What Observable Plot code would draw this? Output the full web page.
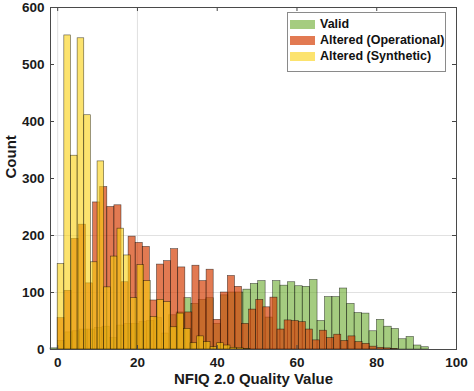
<!DOCTYPE html>
<html><head><meta charset="utf-8">
<script src="https://cdn.jsdelivr.net/npm/d3@7"></script>
<script src="https://cdn.jsdelivr.net/npm/@observablehq/plot@0.6"></script>
<style>
body{margin:0;background:#fff;}
#chart{position:relative;width:474px;height:391px;font-family:'Liberation Sans',Arial,sans-serif;}
#legend{position:absolute;left:287px;top:12px;width:159px;height:60px;border:1px solid #8a8a8a;background:#fff;box-sizing:border-box;}
.row{position:absolute;left:2px;height:16px;display:flex;align-items:center;font-weight:bold;font-size:12.5px;color:#111;white-space:nowrap;}
.sw{width:25px;height:9px;margin-right:5px;}
</style></head><body><div id="chart"><div id="legend"></div></div>
<script>
const seriesNames = ["Valid", "Altered (Operational)", "Altered (Synthetic)"];
const seriesColors = ["#69AA2B", "#D54108", "#FAD00D"];
const seriesOpacity = [0.6, 0.7, 0.6];

const validStart = -1.8, validWidth = 1.86;
const validCounts = [2, 15, 30, 32, 35, 35, 38, 40, 20, 42, 45, 45, 48, 50, 55, 28, 60, 65, 90, 80,
  87, 90, 45, 95, 100, 100, 105, 115, 120, 56, 120, 112, 118, 111, 110, 122, 50, 92, 92, 107,
  80, 64, 63, 32, 52, 40, 36, 18, 22, 7, 4];

const operationalStart = 0, operationalWidth = 1.778;
const operationalCounts = [55, 103, 194, 219, 116, 258, 285, 250, 253, 118, 198, 187, 180, 86, 149, 155,
  176, 144, 65, 147, 120, 140, 52, 100, 129, 110, 45, 70, 87, 74, 91, 35, 51, 50, 48, 35, 16, 33, 20,
  26, 15, 23, 13, 10, 5, 3, 2, 1];

const syntheticStart = 0, syntheticWidth = 5 / 3;
const syntheticCounts = [150, 551, 340, 546, 411, 153, 330, 109, 163, 212, 165, 90, 148, 120, 57, 87, 83,
  39, 63, 36, 11, 23, 13, 4, 11, 7, 3, 2, 1];

const xTicks = [0, 20, 40, 60, 80, 100];
const yTicks = [0, 100, 200, 300, 400, 500, 600];
const xGrid = [0, 20];
const yGrid = [100, 200];
const xDomain = [-1.8, 100];
const yDomain = [0, 600];

function rows(start, width, counts) {
  return counts.map((c, i) => ({x1: start + i * width, x2: start + (i + 1) * width, count: c}));
}
const series = [
  rows(validStart, validWidth, validCounts),
  rows(operationalStart, operationalWidth, operationalCounts),
  rows(syntheticStart, syntheticWidth, syntheticCounts)
];

const barMarks = series.map((data, s) => Plot.rect(data, {
  x1: "x1", x2: "x2", y1: 0, y2: "count",
  fill: seriesColors[s], fillOpacity: seriesOpacity[s],
  stroke: "#000", strokeOpacity: 0.65, strokeWidth: 0.6
}));

const chart = Plot.plot({
  width: 474, height: 391,
  marginLeft: 50, marginRight: 18, marginTop: 7, marginBottom: 42,
  style: {fontFamily: "'Liberation Sans', Arial, sans-serif", fontSize: "13.5px", fontWeight: "bold", color: "#1a1a1a", background: "transparent"},
  x: {domain: xDomain, label: null},
  y: {domain: yDomain, label: null},
  marks: [
    Plot.ruleX(xGrid, {stroke: "#d9d9d9", strokeWidth: 0.8}),
    Plot.ruleY(yGrid, {stroke: "#d9d9d9", strokeWidth: 0.8}),
    ...barMarks,
    Plot.ruleX(xTicks, {y1: yDomain[0], y2: yDomain[0] + 7, stroke: "#444"}),
    Plot.ruleX(xTicks, {y1: yDomain[1] - 7, y2: yDomain[1], stroke: "#444"}),
    Plot.ruleY(yTicks, {x1: xDomain[0], x2: xDomain[0] + 1, stroke: "#444"}),
    Plot.ruleY(yTicks, {x1: xDomain[1] - 1, x2: xDomain[1], stroke: "#444"}),
    Plot.frame({stroke: "#4a4a4a", strokeWidth: 1}),
    Plot.axisX({ticks: xTicks, tickSize: 0, tickPadding: 8, label: null}),
    Plot.axisY({ticks: yTicks, tickSize: 0, tickPadding: 6, label: null}),
    Plot.text(["NFIQ 2.0 Quality Value"], {frameAnchor: "bottom", dy: 34, fontSize: 15, fontWeight: "bold"}),
    Plot.text(["Count"], {frameAnchor: "left", rotate: -90, dx: -39, fontSize: 15, fontWeight: "bold"})
  ]
});
const host = document.getElementById("chart");
host.insertBefore(chart, host.firstChild);

const legend = document.getElementById("legend");
seriesNames.forEach((name, i) => {
  const row = document.createElement("div");
  row.className = "row";
  row.style.top = (3 + i * 16) + "px";
  const sw = document.createElement("div");
  sw.className = "sw";
  sw.style.background = seriesColors[i];
  sw.style.opacity = seriesOpacity[i];
  row.appendChild(sw);
  row.appendChild(document.createTextNode(name));
  legend.appendChild(row);
});
</script></body></html>
